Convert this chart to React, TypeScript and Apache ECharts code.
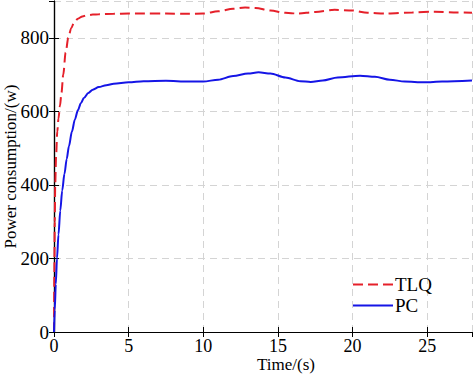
import React, { useEffect, useRef } from "react";
import * as echarts from "echarts";

const tlqX = [0, 0.02, 0.05, 0.08, 0.14, 0.22, 0.3, 0.4, 0.5, 0.62, 0.78, 0.96, 1.15, 1.35, 1.6, 1.9, 2.2, 2.6, 3, 4, 5, 6, 7.5, 9, 10, 11, 12, 12.8, 13.5, 14.5, 15.5, 16.3, 17.5, 18.8, 20, 21, 22.2, 24, 25.5, 27, 28];
const tlqY = [0, 150, 300, 400, 480, 545, 580, 615, 650, 700, 760, 800, 826, 842, 852, 858, 861, 863, 864, 865, 866, 866, 866, 865, 866, 872, 879, 882, 881, 874, 868, 866, 870, 876, 874, 868, 866, 869, 871, 869, 868];

const pcX = [0, 0.05, 0.12, 0.2, 0.3, 0.42, 0.55, 0.7, 0.85, 1.0, 1.2, 1.4, 1.6, 1.8, 2.0, 2.3, 2.6, 3, 3.5, 4, 5, 6, 7.5, 9, 10, 11, 12, 13, 13.7, 14.5, 15.5, 16.5, 17.2, 18, 19, 20.5, 21.5, 22.5, 23.5, 24.8, 26, 28];
const pcY = [0, 60, 130, 200, 265, 330, 385, 430, 470, 505, 545, 578, 603, 622, 636, 650, 659, 666, 671, 675, 679, 682, 683, 681, 681, 686, 696, 703, 706, 703, 692, 682, 680, 684, 692, 697, 694, 686, 681, 679, 681, 684];

const xTicks = [0, 5, 10, 15, 20, 25];
const yTicks = [0, 200, 400, 600, 800];

const FONT = "'Liberation Serif', 'Times New Roman', serif";

export default function App() {
  const ref = useRef<HTMLDivElement>(null);
  useEffect(() => {
    document.body.style.margin = "0";
    const chart = echarts.init(ref.current!, null, { renderer: "svg" });
    const zip = (xs: number[], ys: number[]) => xs.map((x, i) => [x, ys[i]]);
    const axisBase = {
      axisLine: { show: true, lineStyle: { color: "#000", width: 1.2 } },
      axisTick: { show: true, inside: true, length: 5, lineStyle: { color: "#000" } },
    };
    chart.setOption({
      animation: false,
      backgroundColor: "#fff",
      grid: { left: 54, right: 2, top: 1, bottom: 43, outerBoundsMode: "none", containLabel: false },
      legend: {
        left: 347,
        top: 270,
        orient: "vertical",
        itemWidth: 40,
        itemHeight: 10,
        itemGap: 2,
        itemStyle: { opacity: 0 },
        textStyle: { fontFamily: FONT, fontSize: 19, color: "#000", padding: [0, 0, 0, -3] },
        data: ["TLQ", "PC"],
      },
      xAxis: [
        {
          type: "value",
          min: 0,
          max: 28,
          interval: 5,
          name: "Time/(s)",
          nameLocation: "middle",
          nameGap: 24,
          nameMoveOverlap: false,
          nameTextStyle: { fontFamily: FONT, fontSize: 17, lineHeight: 17, color: "#000", padding: [0, 0, 0, 46] },
          ...axisBase,
          axisLabel: {
            fontFamily: FONT,
            fontSize: 18,
            lineHeight: 16,
            color: "#000",
            margin: 6,
            showMaxLabel: false,
            formatter: (v: number) => (xTicks.includes(v) ? String(v) : ""),
          },
          splitLine: { show: true, lineStyle: { color: "#d4d4d4", type: [7, 5] } },
        },
        {
          type: "value",
          position: "top",
          min: 0,
          max: 28,
          interval: 5,
          ...axisBase,
          axisLabel: { show: false },
          splitLine: { show: false },
        },
      ],
      yAxis: [
        {
          type: "value",
          min: 0,
          max: 900,
          interval: 200,
          name: "Power consumption/(w)",
          nameLocation: "middle",
          nameGap: 35,
          nameMoveOverlap: false,
          nameTextStyle: { fontFamily: FONT, fontSize: 17, color: "#000" },
          ...axisBase,
          axisLabel: {
            fontFamily: FONT,
            fontSize: 19,
            color: "#000",
            margin: 5,
            showMaxLabel: false,
            formatter: (v: number) => (yTicks.includes(v) ? String(v) : ""),
          },
          splitLine: { show: true, lineStyle: { color: "#d4d4d4", type: [7, 5] } },
        },
        {
          type: "value",
          position: "right",
          min: 0,
          max: 900,
          interval: 200,
          ...axisBase,
          axisLabel: { show: false },
          splitLine: { show: false },
        },
      ],
      series: [
        {
          name: "TLQ",
          type: "line",
          data: zip(tlqX, tlqY),
          symbol: "none",
          smooth: 0.3,
          smoothMonotone: "x",
          lineStyle: { color: "#e5202a", type: [10, 5], width: 2 },
          itemStyle: { color: "#e5202a" },
        },
        {
          name: "PC",
          type: "line",
          data: zip(pcX, pcY),
          symbol: "none",
          smooth: 0.3,
          smoothMonotone: "x",
          lineStyle: { color: "#1515e6", width: 2 },
          itemStyle: { color: "#1515e6" },
        },
      ],
    });
    return () => chart.dispose();
  }, []);
  return <div ref={ref} style={{ width: 474, height: 375 }} />;
}
